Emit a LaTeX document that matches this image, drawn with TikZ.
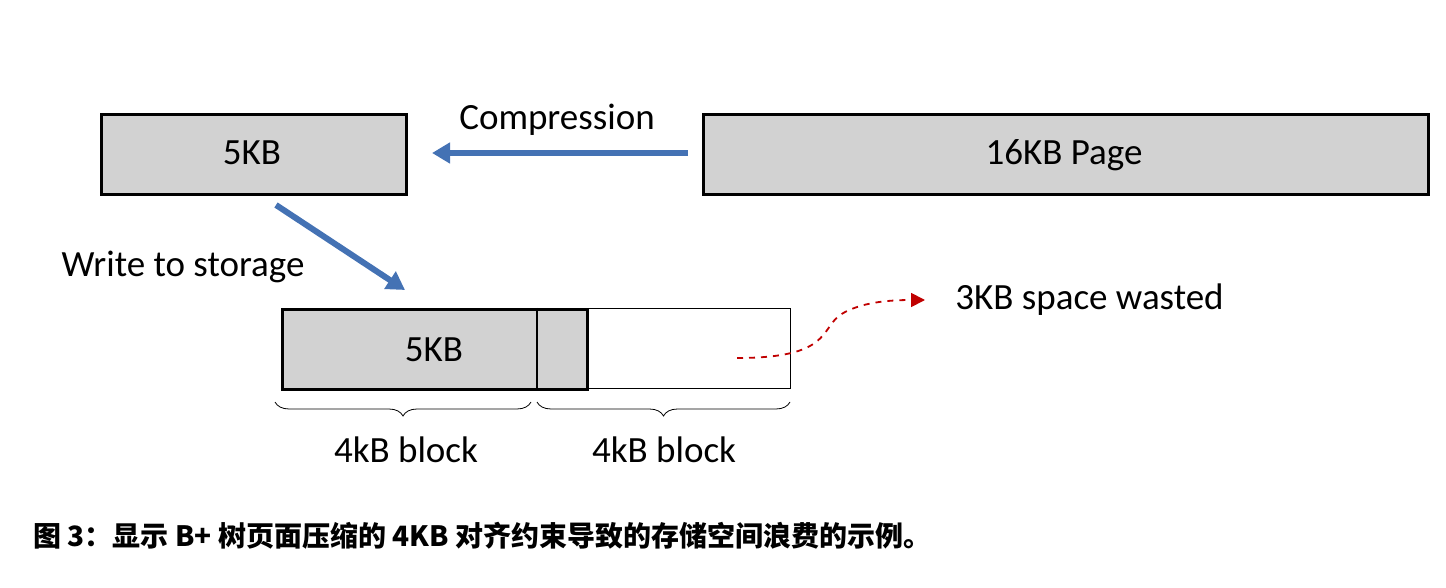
\documentclass[tikz,border=0pt]{standalone}
\usepackage{fontspec}
\setmainfont{Carlito}
\newfontfamily\cjk{Noto Sans CJK SC}
\usetikzlibrary{arrows.meta,decorations.pathreplacing}
\begin{document}
\begin{tikzpicture}[x=0.5pt,y=-0.5pt,
  box/.style={draw,line width=1.5pt,fill=gray!35,inner sep=0},
  lbl/.style={font=\fontsize{18.5}{22}\selectfont,inner sep=0},
  blue arrow/.style={color={rgb,255:red,68;green,114;blue,180},line width=3pt,-{Triangle[length=9pt,width=10pt]}},
  brace/.style={decorate,decoration={brace,mirror,amplitude=7pt},line width=0.4pt}]
\useasboundingbox (0,0) rectangle (1446,588);
\node[box,minimum width=152.5pt,minimum height=40pt,anchor=north west] (a) at (100,113) {};
\node[lbl] (at) at (252,153) {5KB};
\node[box,minimum width=362.5pt,minimum height=40pt,anchor=north west] (p) at (702,113) {};
\node[lbl] (pt) at (1064,155) {16KB Page};
\node[lbl] (comp) at (557,120) {Compression};
\coordinate (c1) at (688,153);
\coordinate (c2) at (432,153);
\draw[blue arrow] (c1) -- (c2);
\coordinate (w1) at (276,205);
\coordinate (w2) at (405,290);
\draw[blue arrow] (w1) -- (w2);
\node[lbl] (wt) at (183,267) {Write to storage};
% bottom
\node[draw,line width=0.6pt,fill=white,minimum width=102pt,minimum height=40pt,anchor=north west,inner sep=0] (wb) at (586,308) {};
\node[box,minimum width=152.5pt,minimum height=40pt,anchor=north west] (b) at (281,308) {};
\coordinate (s1) at (537,308);
\coordinate (s2) at (537,388);
\draw[line width=0.6pt] (s1) -- (s2);
\node[lbl] (bt) at (434,350) {5KB};
\coordinate (r1) at (275,402);
\coordinate (r2) at (531,402);
\coordinate (r3) at (537,402);
\coordinate (r4) at (790,402);
\draw[brace] (r1) -- (r2);
\draw[brace] (r3) -- (r4);
\node[lbl] (l1) at (406,450) {4kB block};
\node[lbl] (l2) at (664,450) {4kB block};
\coordinate (d1) at (737,358);
\coordinate (d2) at (925,300);
\draw[dashed,color={rgb,255:red,192;green,0;blue,0},line width=0.9pt,-{Triangle[length=7pt,width=7pt]}] (d1) .. controls (830,358) and (820,330) .. (840,315) .. controls (860,302) and (890,300) .. (d2);
\node[lbl,anchor=west] (wt2) at (955,300) {3KB space wasted};
\node[anchor=west,inner sep=0,font=\cjk\bfseries\fontsize{14}{17}\selectfont] (cap) at (33,536) {图 3：显示 B+ 树页面压缩的 4KB 对齐约束导致的存储空间浪费的示例。};
\end{tikzpicture}
\end{document}
